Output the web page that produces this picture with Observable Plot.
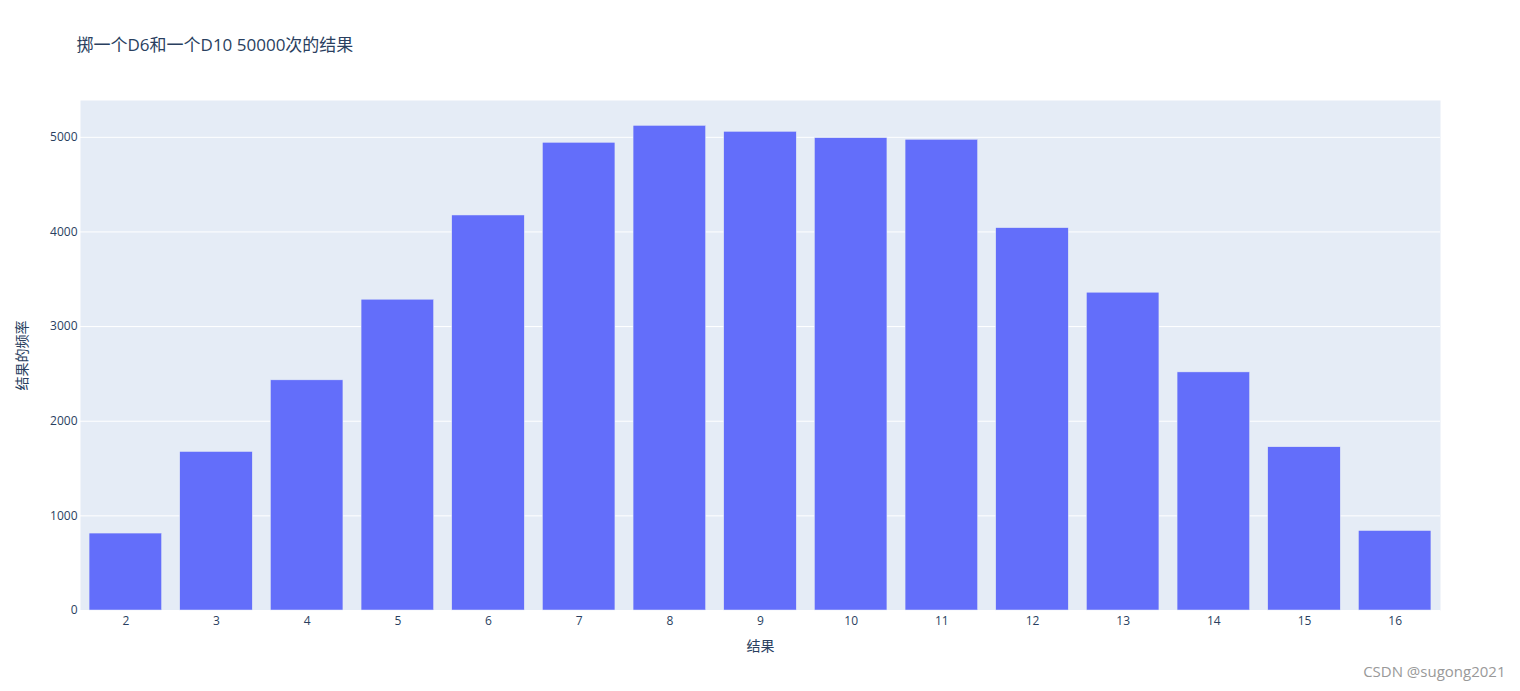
<!DOCTYPE html>
<html>
<head>
<meta charset="utf-8">
<script src="https://cdn.jsdelivr.net/npm/d3@7"></script>
<script src="https://cdn.jsdelivr.net/npm/@observablehq/plot@0.6"></script>
<style>
  html, body { margin: 0; padding: 0; background: #fff; }
  svg { display: block; }
</style>
</head>
<body>
<div id="chart"></div>
<script>
const outcomes = [2, 3, 4, 5, 6, 7, 8, 9, 10, 11, 12, 13, 14, 15, 16];
const frequencies = [813, 1675, 2432, 3284, 4174, 4942, 5121, 5058, 4991, 4974, 4040, 3358, 2516, 1725, 840];
const yTicks = [0, 1000, 2000, 3000, 4000, 5000];
const titleText = "掷一个D6和一个D10 50000次的结果";
const xLabel = "结果";
const yLabel = "结果的频率";
const watermark = "CSDN @sugong2021";

const data = outcomes.map((o, i) => ({outcome: o, freq: frequencies[i]}));
const font = '"Open Sans", "Noto Sans CJK SC", sans-serif';

const chart = Plot.plot({
  width: 1520,
  height: 691,
  marginTop: 100,
  marginBottom: 81,
  marginLeft: 80,
  marginRight: 80,
  style: {fontFamily: font, color: "#2a3f5f", background: "#fff", fontSize: "12px"},
  x: {type: "band", domain: outcomes, paddingInner: 0.2, paddingOuter: 0.1, round: false, label: null},
  y: {domain: [0, 5389], label: null},
  marks: [
    Plot.frame({fill: "#E5ECF6", stroke: null}),
    Plot.gridY(yTicks, {stroke: "#fff", strokeOpacity: 1, strokeWidth: 1}),
    Plot.barY(data, {x: "outcome", y: "freq", fill: "#636EFA", stroke: "#E5ECF6", strokeWidth: 0.5}),
    Plot.axisY(yTicks, {tickSize: 0, tickPadding: 3, tickFormat: d3.format("d"), label: null, fill: "#2a3f5f", fontSize: 12}),
    Plot.axisX({tickSize: 0, tickPadding: 6, label: null, fill: "#2a3f5f", fontSize: 12}),
    Plot.text([yLabel], {frameAnchor: "left", textAnchor: "middle", lineAnchor: "middle", dx: -58, rotate: -90, fontSize: 14, fill: "#2a3f5f"}),
    Plot.text([xLabel], {frameAnchor: "bottom", textAnchor: "middle", lineAnchor: "middle", dy: 36, fontSize: 14, fill: "#2a3f5f"}),
    Plot.text([titleText], {frameAnchor: "top-left", textAnchor: "start", lineAnchor: "middle", dx: -4, dy: -55, fontSize: 17, fill: "#2a3f5f"}),
    Plot.text([watermark], {frameAnchor: "bottom-right", textAnchor: "end", lineAnchor: "middle", dx: 65, dy: 62, fontSize: 15, fill: "#999"})
  ]
});
document.getElementById("chart").appendChild(chart);
</script>
</body>
</html>
